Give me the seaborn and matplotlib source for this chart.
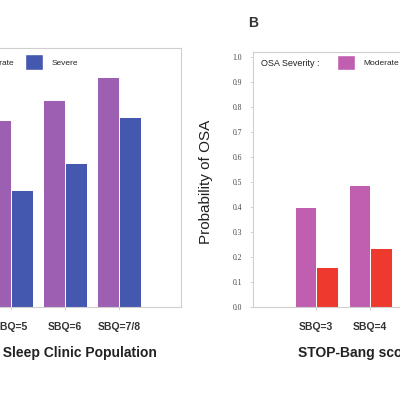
import pandas as pd
import matplotlib
matplotlib.use("Agg")
import matplotlib.pyplot as plt
from matplotlib.patches import Patch
import seaborn as sns

categories = ["SBQ=3", "SBQ=4", "SBQ=5", "SBQ=6", "SBQ=7/8"]
severity = ["Moderate", "Severe"]

# panel A (sleep clinic) - only the visible part of the original figure
clinic_sbq = ["SBQ=5", "SBQ=6", "SBQ=7/8"]
clinic_moderate = [0.75, 0.83, 0.92]
clinic_severe = [0.47, 0.575, 0.76]

# panel B (surgical) - only the visible part
surg_sbq = ["SBQ=3", "SBQ=4"]
surg_moderate = [0.40, 0.49]
surg_severe = [0.16, 0.235]

yticks = [0.0, 0.1, 0.2, 0.3, 0.4, 0.5, 0.6, 0.7, 0.8, 0.9, 1.0]

clinic_colors = ["#9c5fb1", "#4458b0"]
surg_colors = ["#c05fb0", "#ee3a2e"]

def to_long(sbq, mod, sev):
    rows = []
    for s, m, v in zip(sbq, mod, sev):
        rows.append({"SBQ": s, "Severity": "Moderate", "Probability": m})
        rows.append({"SBQ": s, "Severity": "Severe", "Probability": v})
    return pd.DataFrame(rows)

df_clinic = to_long(clinic_sbq, clinic_moderate, clinic_severe)
df_surg = to_long(surg_sbq, surg_moderate, surg_severe)

sns.set_theme(style="white")
plt.rcParams["font.family"] = ["Liberation Sans", "DejaVu Sans"]

W, H = 400, 400
fig = plt.figure(figsize=(4, 4), dpi=100)

def px_axes(left, right, top, bottom):
    return fig.add_axes([left / W, 1 - bottom / H, (right - left) / W, (bottom - top) / H])

ax_a = px_axes(-160, 181, 48, 307)
ax_b = px_axes(253, 594, 52, 307)

spine_col = "#cfcfcf"

def draw_panel(ax, df, colors, ytop, title):
    sns.barplot(data=df, x="SBQ", y="Probability", hue="Severity",
                order=categories, hue_order=severity, palette=colors,
                saturation=1, width=0.8, ax=ax, legend=False,
                edgecolor="white", linewidth=0.7)
    ax.set_xlim(-1.17, 5.15)
    ax.set_ylim(0, ytop)
    ax.set_yticks(yticks)
    ax.set_yticklabels([f"{t:.1f}" for t in yticks], fontsize=5.5,
                       family="Liberation Serif", color="#444444")
    ax.set_xticks(range(len(categories)))
    ax.set_xticklabels(categories, fontsize=7.5, fontweight="bold", color="#333333")
    ax.tick_params(axis="y", length=2, width=0.6, color=spine_col, pad=6, left=True)
    ax.tick_params(axis="x", length=2, width=0.6, color=spine_col, pad=9, bottom=True)
    for sp in ax.spines.values():
        sp.set_color(spine_col)
        sp.set_linewidth(0.8)
    ax.set_ylabel("")
    ax.set_xlabel(title, fontsize=10, fontweight="bold", color="#222222", labelpad=10)

draw_panel(ax_a, df_clinic, clinic_colors, 1.036,
           "STOP-Bang score in Sleep Clinic Population")
draw_panel(ax_b, df_surg, surg_colors, 1.02,
           "STOP-Bang score in Surgical Patients")

fig.text(206 / W, 1 - 182 / H, "Probability of OSA", rotation=90,
         ha="center", va="center", fontsize=11, color="#222222")
fig.text(253 / W, 1 - 23 / H, "B", ha="center", va="center",
         fontsize=10, fontweight="bold", color="#333333")

def add_legend(ax, colors, lx, ly, tx):
    handles = [Patch(facecolor=c, edgecolor="white") for c in colors]
    ax.legend(handles, severity, ncol=2, loc="center left",
              bbox_to_anchor=(lx / W, 1 - ly / H), bbox_transform=fig.transFigure,
              frameon=False, fontsize=6, handlelength=2.2, handleheight=2.4,
              handletextpad=1.0, columnspacing=1.3, borderpad=0, borderaxespad=0)
    fig.text(tx / W, 1 - (ly + 1.5) / H, "OSA Severity :", fontsize=6.5,
             ha="left", va="center", color="#222222")

add_legend(ax_a, clinic_colors, -48, 62, -122)
add_legend(ax_b, surg_colors, 337, 62.5, 261)

fig.savefig("out.png", dpi=100)
